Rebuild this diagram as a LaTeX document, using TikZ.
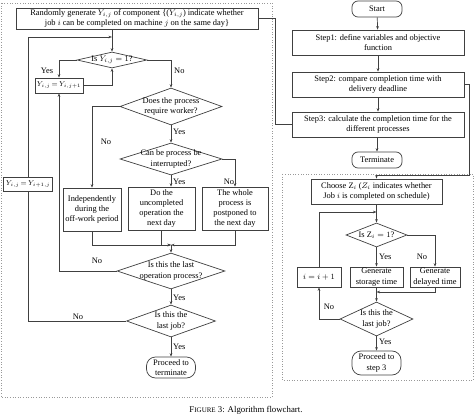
\documentclass[tikz,border=0pt]{standalone}
\usepackage{fontspec}
\setmainfont{Liberation Serif}
\usetikzlibrary{shapes.geometric,arrows.meta,calc}
\begin{document}
\begin{tikzpicture}[x=1pt,y=-1pt,
  every node/.style={font=\fontsize{8.4}{10.3}\selectfont},
  ln/.style={draw=black!75, line width=0.7pt},
  arr/.style={ln, -{Stealth[length=3.5pt,width=2.6pt]}},
  box/.style={draw=black!75, line width=0.7pt, inner sep=0pt, align=center},
  rbox/.style={box, rounded corners=7pt},
  dia/.style={draw=black!75, line width=0.7pt, diamond, inner sep=0pt},
  txt/.style={inner sep=0pt, align=center},
  small/.style={font=\fontsize{7}{8}\selectfont},
  lab/.style={inner sep=1pt},
  dot/.style={draw=black!40, dotted, line width=0.6pt}]
\useasboundingbox (0,0) rectangle (474,417);
% dotted frames
\draw[dot] (1,3) rectangle (272,397);
\draw[dot] (282,174) rectangle (473,380);

% ---------- left column ----------
\node[box, minimum width=242pt, minimum height=21pt] (top) at (137,18.5)
  {Randomly generate $Y_{i,j}$ of component \{($Y_{i,j}$) indicate whether\\
   job $i$ can be completed on machine $j$ on the same day\}};
\node[dia, minimum width=70pt, minimum height=16pt] (d1) at (112,60) {};
\node[txt] at (d1) {Is $Y_{i,j}=1$?};
\node[box, small, minimum width=48pt, minimum height=15pt] (yb1) at (59,85.5) {$Y_{i,j}\,{=}\,Y_{i,j+1}$};
\node[dia, minimum width=102pt, minimum height=37pt] (d2) at (171,106.5) {};
\node[txt] at (d2) {Does the process\\require worker?};
\node[dia, minimum width=102pt, minimum height=32pt] (d3) at (171,159) {};
\node[txt] at (d3) {Can be process be\\interrupted?};
\node[box, minimum width=58pt, minimum height=43pt] (bind) at (92,209.5)
  {Independently\\during the\\off-work period};
\node[box, minimum width=67pt, minimum height=43pt] (bdo) at (161.5,208.5)
  {Do the\\uncompleted\\operation the\\next day};
\node[box, minimum width=66pt, minimum height=43pt] (bwh) at (235,208.5)
  {The whole\\process is\\postponed to\\the next day};
\coordinate (m1) at (171,245);
\node[dia, minimum width=108pt, minimum height=36pt] (d4) at (171,271) {};
\node[txt] at (d4) {Is this the last\\operation process?};
\node[dia, minimum width=89pt, minimum height=32pt] (d5) at (171,321) {};
\node[txt] at (d5) {Is this the\\last job?};
\node[rbox, rounded corners=9pt, minimum width=49pt, minimum height=21pt] (proc) at (171,367.5)
  {Proceed to\\terminate};
\node[box, small, minimum width=49pt, minimum height=14pt] (yb2) at (28,184) {$Y_{i,j}\,{=}\,Y_{i+1,j}$};
\coordinate (j1) at (112,37);

\draw[arr] (d1.north |- top.south) -- (d1.north);
\draw[arr] (d1.west) -| (yb1.north);
\node[lab] at (47,71) {Yes};
\draw[arr] (yb1.east) -| (d1.south);
\draw[arr] (d1.east) -| (d2.north);
\node[lab, anchor=west] at (173,71) {No};
\draw[arr] (d2.west) -| (bind.north);
\node[lab] at (106,142) {No};
\draw[arr] (d2.south) -- (d3.north);
\node[lab, anchor=west] at (172,132) {Yes};
\draw[arr] (d3.south) -- (d3.south |- bdo.north);
\node[lab, anchor=west] at (172,182) {Yes};
\draw[arr] (d3.east) -| (bwh.north);
\node[lab] at (229,182) {No};
\draw[arr] (bind.south) |- (m1);
\draw[arr] (bwh.south) |- (m1);
\draw[arr] (bdo.south) |- (m1);
\draw[arr] (m1) -- (d4.north);
\draw[arr] (d4.west) -| (yb1.south);
\node[lab] at (97,261) {No};
\draw[arr] (d4.south) -- (d5.north);
\node[lab, anchor=west] at (172,298) {Yes};
\draw[ln] (d5.west) -| (yb2.south);
\draw[arr] (yb2.north) |- (j1);
\node[lab] at (78,317) {No};
\draw[arr] (d5.south) -- (proc.north);
\node[lab, anchor=west] at (172,347) {Yes};

% ---------- right column ----------
\node[rbox, rounded corners=6pt, minimum width=50pt, minimum height=16pt] (start) at (377,9) {Start};
\node[box, minimum width=172pt, minimum height=25pt] (s1) at (378,42.5)
  {Step1: define variables and objective\\function};
\node[box, minimum width=172pt, minimum height=25pt] (s2) at (378,84.5)
  {Step2: compare completion time with\\delivery deadline};
\node[box, minimum width=172pt, minimum height=25pt] (s3) at (378,124.5)
  {Step3: calculate the completion time for the\\different processes};
\node[rbox, rounded corners=6pt, minimum width=50pt, minimum height=16pt] (term) at (377,160) {Terminate};
\draw[arr] (start) -- (s1);
\draw[arr] (s1) -- (s2);
\draw[arr] (s2) -- (s3);
\draw[arr] (s3.south -| term.north) -- (term.north);
\coordinate (c2) at (275,18.5);
\draw[ln] (s3.west) -| (c2) -- (top.east);
\coordinate (c1) at (469,175);

\node[box, minimum width=131pt, minimum height=25pt] (ch) at (376.5,191.5)
  {Choose $\mathrm{Z}_i$ ($Z_i$ indicates whether\\Job $i$ is completed on schedule)};
\draw[arr] (s2.east) -| (c1) -| (ch.north);
\node[dia, minimum width=61pt, minimum height=24pt] (dz) at (376.5,235) {};
\node[txt] at (dz) {Is $\mathrm{Z}_i=1$?};
\node[box, minimum width=44pt, minimum height=20pt] (inc) at (319,277) {$i=i+1$};
\node[box, minimum width=53pt, minimum height=20pt] (gs) at (376.5,277) {Generate\\storage time};
\node[box, minimum width=50pt, minimum height=20pt] (gd) at (435,277) {Generate\\delayed time};
\coordinate (j2) at (376.5,212);
\coordinate (m2) at (376.5,292);
\node[dia, minimum width=73pt, minimum height=34pt] (d6) at (376.5,319) {};
\node[txt] at (d6) {Is this the\\last job?};
\node[rbox, rounded corners=9pt, minimum width=49pt, minimum height=24pt] (p3) at (376.5,363)
  {Proceed to\\step 3};

\draw[arr] (ch.south) -- (dz.north);
\draw[arr] (inc.north) |- (j2);
\draw[arr] (dz.south) -- (gs.north);
\node[lab, anchor=west] at (378,257) {Yes};
\draw[arr] (dz.east) -| (gd.north);
\node[lab] at (422,257) {No};
\draw[arr] (gd.south) |- (m2);
\draw[arr] (gs.south) -- (d6.north);
\draw[arr] (d6.west) -| (inc.south);
\node[lab] at (329,307) {No};
\draw[arr] (d6.south) -- (p3.north);
\node[lab, anchor=west] at (378,342) {Yes};

% caption
\node[inner sep=0pt, font=\fontsize{8.8}{10}\selectfont] (cap) at (246,410)
  {F{\fontsize{7}{8}\selectfont IGURE} 3: Algorithm flowchart.};
\end{tikzpicture}
\end{document}
